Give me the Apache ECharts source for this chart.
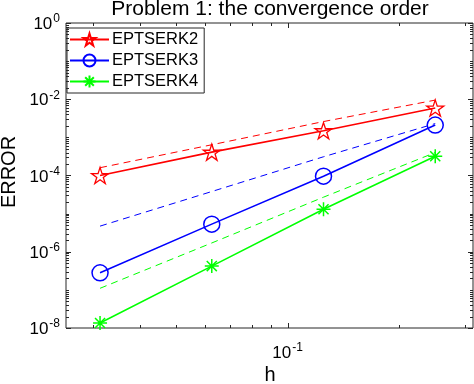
<!DOCTYPE html>
<html>
<head>
<meta charset="utf-8">
<script src="https://cdn.jsdelivr.net/npm/echarts@6/dist/echarts.min.js"></script>
<style>
html,body{margin:0;padding:0;background:#fff;}
#chart{width:474px;height:384px;}
</style>
</head>
<body>
<div id="chart"></div>
<script>
// ---- data ----
const stepSizes = [0.03125, 0.0625, 0.125, 0.25];
const errEPTSERK2 = [1.0e-4, 4.1e-4, 1.5e-3, 5.9e-3];
const errEPTSERK3 = [2.8e-7, 5.3e-6, 9.6e-5, 2.1e-3];
const errEPTSERK4 = [1.35e-8, 4.2e-7, 1.3e-5, 3.2e-4];
const refOrder2 = [1.6e-4, 6.4e-4, 2.6e-3, 9.5e-3];
const refOrder3 = [4.7e-6, 3.8e-5, 3.1e-4, 2.3e-3];
const refOrder4 = [1.1e-7, 1.7e-6, 2.7e-5, 4.0e-4];
const seriesNames = ['EPTSERK2', 'EPTSERK3', 'EPTSERK4'];
const titleText = 'Problem 1: the convergence order';
const xLabelText = 'h';
const yLabelText = 'ERROR';
// axis extents and ticks
const X_MIN = 0.0253, X_MAX = 0.316;
const Y_MIN = 1e-8, Y_MAX = 1;
const xMajorTicks = [0.1];
const xMinorTicks = [0.03, 0.04, 0.05, 0.06, 0.07, 0.08, 0.09, 0.2, 0.3];
const yMajorTicks = [1e-8, 1e-6, 1e-4, 1e-2, 1];
const yOddDecades = [1e-7, 1e-5, 1e-3, 1e-1];
const mantissas = [2, 3, 4, 5, 6, 7, 8, 9];

const yMinorTicks = yOddDecades.slice();
[1e-8,1e-7,1e-6,1e-5,1e-4,1e-3,1e-2,1e-1].forEach(d => mantissas.forEach(m => yMinorTicks.push(m * d)));

const pair = (xs, ys) => xs.map((x, i) => [x, ys[i]]);

const FONT = '"Liberation Sans", Arial, Helvetica, sans-serif';
const AX = '#262626';
const RED = '#ff0000', BLUE = '#0000ff', GREEN = '#00ff00';

const STAR = 'path://M0,-1L0.2245,-0.309L0.951,-0.309L0.3633,0.118L0.5878,0.809L0,0.382L-0.5878,0.809L-0.3633,0.118L-0.951,-0.309L-0.2245,-0.309Z';
const ASTER = 'path://M0,-1L0,1M-1,0L1,0M-0.72,-0.72L0.72,0.72M-0.72,0.72L0.72,-0.72';

function powLabel(v, onlyEven) {
  const e = Math.log10(v);
  const r = Math.round(e);
  if (Math.abs(e - r) > 1e-6) return '';
  if (onlyEven && r % 2 !== 0) return '';
  return '{b|10}{s|' + r + '}';
}
const richPow = {
  b: { fontSize: 17, fontFamily: FONT, color: '#000', verticalAlign: 'bottom', lineHeight: 20 },
  s: { fontSize: 12, fontFamily: FONT, color: '#000', verticalAlign: 'top', lineHeight: 20, padding: [0, 0, 0, 1] }
};

const chart = echarts.init(document.getElementById('chart'), null, { renderer: 'canvas' });

const option = {
  animation: false,
  backgroundColor: '#fff',
  grid: { left: 66, top: 23, right: 1, bottom: 56, show: true, borderColor: AX, borderWidth: 1, backgroundColor: '#fff',
          containLabel: false, outerBoundsMode: 'none' },
  graphic: [
    { type: 'text', x: 270, y: 9, style: { text: titleText, font: '21px ' + FONT, fill: '#000', textAlign: 'center', textVerticalAlign: 'middle' } },
    { type: 'text', x: 270, y: 375, style: { text: xLabelText, font: '20px ' + FONT, fill: '#000', textAlign: 'center', textVerticalAlign: 'middle' } },
    { type: 'text', x: 9, y: 172, rotation: Math.PI / 2, style: { text: yLabelText, font: '20px ' + FONT, fill: '#000', textAlign: 'center', textVerticalAlign: 'middle' } }
  ],
  legend: {
    data: seriesNames,
    orient: 'vertical',
    left: 67, top: 28,
    itemWidth: 39, itemHeight: 15, itemGap: 4,
    padding: [3, 6, 3, 2],
    borderColor: AX, borderWidth: 1, backgroundColor: '#fff',
    textStyle: { fontSize: 16.5, fontFamily: FONT, color: '#000', padding: [0, 0, 0, -2] }
  },
  xAxis: {
    type: 'log', logBase: 10, min: X_MIN, max: X_MAX,
    axisLine: { show: false }, axisTick: { show: false }, splitLine: { show: false },
    axisLabel: { formatter: v => powLabel(v, false), rich: richPow, margin: 14 }
  },
  yAxis: {
    type: 'log', logBase: 10, min: Y_MIN, max: Y_MAX,
    axisLine: { show: false }, axisTick: { show: false }, splitLine: { show: false },
    axisLabel: { formatter: v => powLabel(v, true), rich: richPow, margin: 6 }
  },
  series: [
    { name: 'ref2', type: 'line', data: pair(stepSizes, refOrder2), symbol: 'none', z: 2,
      lineStyle: { color: RED, width: 1, type: [7, 5] } },
    { name: 'ref3', type: 'line', data: pair(stepSizes, refOrder3), symbol: 'none', z: 2,
      lineStyle: { color: BLUE, width: 1, type: [7, 5] } },
    { name: 'ref4', type: 'line', data: pair(stepSizes, refOrder4), symbol: 'none', z: 2,
      lineStyle: { color: GREEN, width: 1, type: [7, 5] } },
    { name: seriesNames[0], type: 'line', data: pair(stepSizes, errEPTSERK2), z: 3,
      symbol: STAR, symbolSize: 17, symbolKeepAspect: true,
      itemStyle: { color: 'rgba(0,0,0,0)', borderColor: RED, borderWidth: 1.3 },
      lineStyle: { color: RED, width: 1.6 } },
    { name: seriesNames[1], type: 'line', data: pair(stepSizes, errEPTSERK3), z: 3,
      symbol: 'circle', symbolSize: 16,
      itemStyle: { color: 'rgba(0,0,0,0)', borderColor: BLUE, borderWidth: 1.5 },
      lineStyle: { color: BLUE, width: 1.6 } },
    { name: seriesNames[2], type: 'line', data: pair(stepSizes, errEPTSERK4), z: 3,
      symbol: ASTER, symbolSize: 14, symbolKeepAspect: true,
      itemStyle: { color: 'rgba(0,0,0,0)', borderColor: GREEN, borderWidth: 1.5 },
      lineStyle: { color: GREEN, width: 1.6 } },
    { name: 'ticks', type: 'custom', silent: true, z: 5, clip: false,
      data: [[0.1, 0.01]], encode: { x: 0, y: 1 },
      renderItem: function (params, api) {
        const bl = api.coord([X_MIN, Y_MIN]);
        const tr = api.coord([X_MAX, Y_MAX]);
        const L = bl[0], B = bl[1], R = tr[0], T = tr[1];
        const kids = [];
        const st = { stroke: AX, lineWidth: 1 };
        const addX = (v, len) => {
          const x = Math.round(api.coord([v, Y_MIN])[0]) + 0.5;
          kids.push({ type: 'line', shape: { x1: x, y1: B, x2: x, y2: B - len }, style: st });
          kids.push({ type: 'line', shape: { x1: x, y1: T, x2: x, y2: T + len }, style: st });
        };
        const addY = (v, len) => {
          const y = Math.round(api.coord([X_MIN, v])[1]) + 0.5;
          kids.push({ type: 'line', shape: { x1: L, y1: y, x2: L + len, y2: y }, style: st });
          kids.push({ type: 'line', shape: { x1: R, y1: y, x2: R - len, y2: y }, style: st });
        };
        xMajorTicks.forEach(v => addX(v, 5));
        xMinorTicks.forEach(v => addX(v, 3));
        yMajorTicks.forEach(v => addY(v, 5));
        yMinorTicks.forEach(v => addY(v, 3));
        return { type: 'group', children: kids };
      }
    }
  ]
};
chart.setOption(option);
</script>
</body>
</html>
